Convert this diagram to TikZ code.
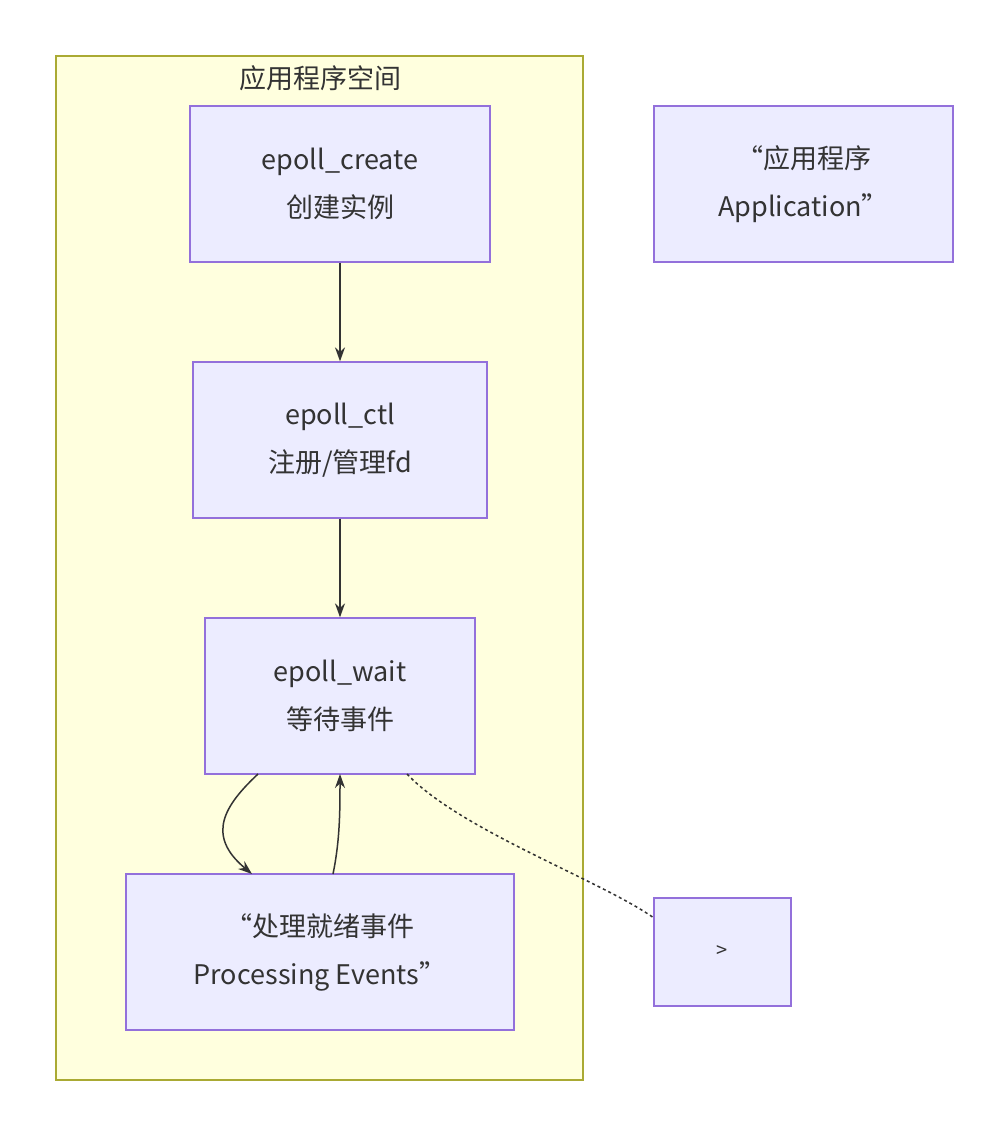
\documentclass[tikz,border=0pt]{standalone}
\usepackage{fontspec}
\setmainfont{Noto Sans CJK SC}
\usetikzlibrary{arrows.meta}
\definecolor{nodefill}{HTML}{ECECFF}
\definecolor{nodeline}{HTML}{9370DB}
\definecolor{clfill}{HTML}{FFFFDE}
\definecolor{clline}{HTML}{AAAA33}
\definecolor{ink}{HTML}{333333}
\begin{document}
\begin{tikzpicture}[x=1pt,y=-1pt,
  box/.style={draw=nodeline,fill=nodefill,line width=1.3pt,inner sep=0pt,text=ink,align=center,font=\fontsize{27}{48}\selectfont},
  arr/.style={draw=ink,line width=1.5pt,-{Stealth[length=14pt,width=10pt]}}]
\useasboundingbox (0,0) rectangle (1008,1136);
\fill[white] (0,0) rectangle (1008,1136);
\draw[fill=clfill,draw=clline,line width=1.3pt] (56,56) rectangle (583,1080);
\node[text=ink,font=\fontsize{27}{32}\selectfont] (title) at (320,78) {应用程序空间};
\node[box,minimum width=300pt,minimum height=156pt] (A) at (340,184) {epoll\_create\\创建实例};
\node[box,minimum width=294pt,minimum height=156pt] (B) at (340,440) {epoll\_ctl\\注册/管理fd};
\node[box,minimum width=270pt,minimum height=156pt] (C) at (340,696) {epoll\_wait\\等待事件};
\node[box,minimum width=388pt,minimum height=156pt] (D) at (320,952) {“处理就绪事件\\Processing Events”};
\node[box,minimum width=299pt,minimum height=156pt] (E) at (803.5,184) {“应用程序\\Application”};
\node[box,minimum width=137pt,minimum height=108pt,font=\fontsize{20}{24}\selectfont] (F) at (722.5,952) {>};
\draw[arr] (A.south) -- (B.north);
\draw[arr] (B.south) -- (C.north);
\coordinate (c1) at (258,774);
\coordinate (d1) at (252,874);
\coordinate (d2) at (333,874);
\coordinate (c2) at (340,774);
\draw[arr] (c1) .. controls (225,805) and (205,835) .. (d1);
\draw[arr] (d2) .. controls (340,840) and (340,810) .. (c2);
\coordinate (c3) at (407,774);
\coordinate (f1) at (654,918);
\draw[ink,line width=1.5pt,dash pattern=on 3pt off 3pt] (c3) .. controls (460,830) and (600,880) .. (f1);
\end{tikzpicture}
\end{document}
